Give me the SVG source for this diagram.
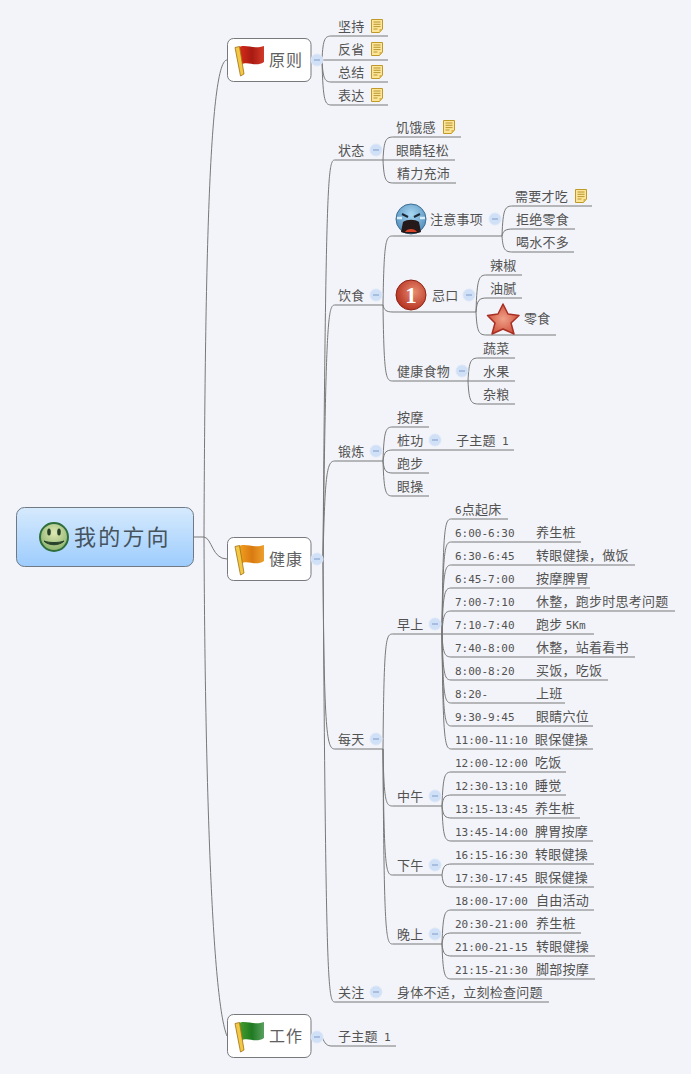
<svg xmlns="http://www.w3.org/2000/svg" width="691" height="1074" viewBox="0 0 691 1074">
<style>
text{font-family:"Noto Sans CJK SC","Noto Sans",sans-serif;font-size:13px;fill:#525252;letter-spacing:.25px}
.t{font-family:"DejaVu Sans Mono","Noto Sans CJK SC",monospace;font-size:11px;letter-spacing:0}
.m{font-size:16px;letter-spacing:1px;fill:#606060}
.r{font-size:22px;letter-spacing:2.2px;fill:#45535e}
.box{fill:#fff;stroke:#77797c;stroke-width:1}
#conn path{fill:none;stroke:#787878;stroke-width:1}
</style>
<defs>
<linearGradient id="rootg" x1="0" y1="0" x2="0" y2="1"><stop offset="0" stop-color="#d6eafd"/><stop offset="1" stop-color="#9dccfd"/></linearGradient>
<linearGradient id="fr" x1="0" y1="0" x2="1" y2="0"><stop offset="0" stop-color="#e0301c"/><stop offset=".55" stop-color="#a81a12"/><stop offset="1" stop-color="#d23a28"/></linearGradient>
<linearGradient id="fo" x1="0" y1="0" x2="1" y2="0"><stop offset="0" stop-color="#f6a722"/><stop offset=".55" stop-color="#d97a12"/><stop offset="1" stop-color="#eda02c"/></linearGradient>
<linearGradient id="fg" x1="0" y1="0" x2="1" y2="0"><stop offset="0" stop-color="#4da62e"/><stop offset=".55" stop-color="#1f7a22"/><stop offset="1" stop-color="#5aa060"/></linearGradient>
<radialGradient id="smile" cx=".5" cy=".35" r=".7"><stop offset="0" stop-color="#dfe9b4"/><stop offset="1" stop-color="#84ad66"/></radialGradient>
<radialGradient id="cry" cx=".5" cy=".35" r=".7"><stop offset="0" stop-color="#a8d8f4"/><stop offset="1" stop-color="#4a86b4"/></radialGradient>
<radialGradient id="one" cx=".6" cy=".4" r=".7"><stop offset="0" stop-color="#e88c70"/><stop offset="1" stop-color="#b02818"/></radialGradient>
<radialGradient id="star" cx=".5" cy=".5" r=".6"><stop offset="0" stop-color="#f0a088"/><stop offset="1" stop-color="#cc4a34"/></radialGradient>
<g id="c"><circle r="6" fill="#d0e0f7" stroke="#dde7f8"/><path d="M-3 0H3" stroke="#7f9cc8" stroke-width="1"/></g>
<g id="n"><path d="M.5 .5H11.500V10L8.500 13.500H.5Z" fill="#fce596" stroke="#c09a28"/><path d="M2.500 3H9.500M2.500 5.300H9.500M2.500 7.600H9.500M2.500 10H6.500" stroke="#a8821c" stroke-width=".8"/><path d="M8.500 13.500V10H11.500Z" fill="#d9b44a"/></g>
<path id="pole" d="M8 9.500L12.500 8.500L17 36L13.500 38Z" fill="#f2c844" stroke="#a07016" stroke-width=".8"/>
<path id="cloth" d="M10 10C18 5 26 12 37 8L37 24C28 30 21 22 13.500 27Z"/>
</defs>
<rect width="691" height="1074" fill="#f2f4f9"/>
<g id="conn">
<path d="M193.500 537H204M204 537C205 300 208 60 227 60"/>
<path d="M204 537C212 538 212 559 227 559"/>
<path d="M204 537C205 780 212 1000 227 1036"/>
<path d="M311 60H322M322 60C323 38 325 36 332 36H388"/>
<path d="M322 60H388"/>
<path d="M322 60C323 80 325 82 332 82H388"/>
<path d="M322 60C323 103 325 105 332 105H388"/>
<path d="M311 559H323"/>
<path d="M323 559C326 170 328 160 335 160H383"/>
<path d="M323 559C326 315 328 305 335 305H383"/>
<path d="M323 559C325 471 327 461 335 461H383"/>
<path d="M323 559C324 739 327 749 335 749H383"/>
<path d="M323 559C326 992 328 1002 335 1002H549"/>
<path d="M383 160C384 139 386 137 394 137H461"/>
<path d="M383 160H455"/>
<path d="M383 160C384 181 386 183 394 183H456"/>
<path d="M383 305C384 238 386 236 393 236H502"/>
<path d="M383 305C384 310 386 312 393 312H476"/>
<path d="M383 305C384 379 386 381 393 381H468"/>
<path d="M502 236C503 208 505 206 513 206H592"/>
<path d="M502 236C503 231 505 229 513 229H575"/>
<path d="M502 236C503 250 505 252 513 252H574"/>
<path d="M476 312C477 277 479 275 487 275H522"/>
<path d="M476 312C477 300 479 298 487 298H522"/>
<path d="M476 312C477 333 479 335 487 335H556"/>
<path d="M468 381C469 360 471 358 479 358H515"/>
<path d="M468 381H515"/>
<path d="M468 381C469 402 471 404 479 404H515"/>
<path d="M383 461C384 429 386 427 393 427H429"/>
<path d="M383 461C384 452 386 450 393 450H514"/>
<path d="M383 461C384 471 386 473 393 473H429"/>
<path d="M383 461C384 494 386 496 393 496H429"/>
<path d="M383 749C384 636 386 634 393 634H442"/>
<path d="M383 749C384 804 386 806 393 806H442"/>
<path d="M383 749C384 873 386 875 393 875H442"/>
<path d="M383 749C384 942 386 944 393 944H442"/>
<path d="M442 634C443 521 445 519 452 519H508"/>
<path d="M442 634C443 544 445 542 452 542H581"/>
<path d="M442 634C443 567 445 565 452 565H635"/>
<path d="M442 634C443 590 445 588 452 588H590"/>
<path d="M442 634C443 613 445 611 452 611H675"/>
<path d="M442 634H594"/>
<path d="M442 634C443 655 445 657 452 657H635"/>
<path d="M442 634C443 678 445 680 452 680H608"/>
<path d="M442 634C443 701 445 703 452 703H565"/>
<path d="M442 634C443 724 445 726 452 726H593"/>
<path d="M442 634C443 747 445 749 452 749H593"/>
<path d="M442 806C443 774 445 772 452 772H566"/>
<path d="M442 806C443 797 445 795 452 795H566"/>
<path d="M442 806C443 816 445 818 452 818H580"/>
<path d="M442 806C443 839 445 841 452 841H593"/>
<path d="M442 875C443 866 445 864 452 864H594"/>
<path d="M442 875C443 885 445 887 452 887H594"/>
<path d="M442 944C443 912 445 910 452 910H594"/>
<path d="M442 944C443 935 445 933 452 933H581"/>
<path d="M442 944C443 954 445 956 452 956H595"/>
<path d="M442 944C443 977 445 979 452 979H595"/>
<path d="M311 1037H322M322 1037C325 1044 327 1046 332 1046H396"/>
</g>
<g id="root"><rect x="16.500" y="507.500" width="177" height="59" rx="8" fill="url(#rootg)" stroke="#6f7a85"/>
<circle cx="54" cy="537" r="14" fill="url(#smile)" stroke="#2f6e3c" stroke-width="2"/><ellipse cx="49" cy="532" rx="1.800" ry="3.500" fill="#26402a"/><ellipse cx="59" cy="532" rx="1.800" ry="3.500" fill="#26402a"/><path d="M44 541C49 546 59 546 64 541C60 543 48 543 44 541Z" fill="#26402a" stroke="#26402a"/>
<text class="r" x="74" y="545">我的方向</text></g>
<g id="yuanze"><rect class="box" x="227.500" y="38.500" width="83.500" height="43" rx="6"/><g transform="translate(227 38)"><use href="#cloth" fill="url(#fr)"/><use href="#pole"/></g><text class="m" x="269" y="66">原则</text><use href="#c" x="317" y="60"/></g>
<g id="jiankang"><rect class="box" x="227.500" y="537.500" width="83.500" height="43" rx="6"/><g transform="translate(227 537)"><use href="#cloth" fill="url(#fo)"/><use href="#pole"/></g><text class="m" x="269" y="565">健康</text><use href="#c" x="317" y="559"/></g>
<g id="gongzuo"><rect class="box" x="227.500" y="1014.500" width="83.500" height="43" rx="6"/><g transform="translate(227 1014)"><use href="#cloth" fill="url(#fg)"/><use href="#pole"/></g><text class="m" x="269" y="1042">工作</text><use href="#c" x="317" y="1037"/></g>
<g id="n1"><text x="338" y="31">坚持</text><use href="#n" x="371" y="19"/></g>
<g id="n2"><text x="338" y="54">反省</text><use href="#n" x="371" y="42"/></g>
<g id="n3"><text x="338" y="77">总结</text><use href="#n" x="371" y="65"/></g>
<g id="n4"><text x="338" y="100">表达</text><use href="#n" x="371" y="88"/></g>
<g id="zhuangtai"><text x="338" y="155">状态</text><use href="#c" x="376" y="150"/></g>
<g id="n5"><text x="396" y="132">饥饿感</text><use href="#n" x="443" y="120"/></g>
<g id="n6"><text x="396" y="155">眼睛轻松</text></g>
<g id="n7"><text x="397" y="178">精力充沛</text></g>
<g id="yinshi"><text x="338" y="300">饮食</text><use href="#c" x="376" y="295"/></g>
<g id="zhuyi"><circle cx="411" cy="219" r="15" fill="url(#cry)" stroke="#3e6f96"/><path d="M402 214L408 217M420 214L414 217" stroke="#1c2a38" stroke-width="2"/><path d="M403 222C407 219 415 219 419 222L421 232C416 234 406 234 401 232Z" fill="#241a1a"/><path d="M405 232C407 228 415 228 417 232Z" fill="#d8442a"/><path d="M397 218H402M420 218H425" stroke="#d8eefa" stroke-width="2.500"/><text x="430" y="224">注意事项</text><use href="#c" x="495" y="219"/></g>
<g id="n8"><text x="515" y="201">需要才吃</text><use href="#n" x="575" y="189"/></g>
<g id="n9"><text x="516" y="224">拒绝零食</text></g>
<g id="n10"><text x="516" y="247">喝水不多</text></g>
<g id="jikou"><circle cx="411" cy="295" r="15" fill="url(#one)" stroke="#8e2418"/><text x="411" y="303" text-anchor="middle" style="font-family:'Liberation Serif',serif;font-size:23px;font-weight:bold;fill:#fff;letter-spacing:0">1</text><text x="432" y="300">忌口</text><use href="#c" x="469" y="295"/></g>
<g id="n11"><text x="490" y="270">辣椒</text></g>
<g id="n12"><text x="490" y="293">油腻</text></g>
<g id="n13"><path d="M503 304L508 314L519 315.500L511 323L514 334L503 329L492 334L495 323L487.500 315.500L498 314Z" fill="url(#star)" stroke="#a92f24" stroke-width="1.500" stroke-linejoin="round"/><text x="524" y="323">零食</text></g>
<g id="jiankangshiwu"><text x="397" y="376">健康食物</text><use href="#c" x="462" y="371"/></g>
<g id="n14"><text x="483" y="353">蔬菜</text></g>
<g id="n15"><text x="483" y="376">水果</text></g>
<g id="n16"><text x="483" y="399">杂粮</text></g>
<g id="duanlian"><text x="338" y="456">锻炼</text><use href="#c" x="376" y="451"/></g>
<g id="n17"><text x="397" y="422">按摩</text></g>
<g id="zhuanggong"><text x="397" y="445">桩功</text><use href="#c" x="435" y="440"/></g>
<g id="n18"><text x="456" y="445">子主题 <tspan class="t" dx="3">1</tspan></text></g>
<g id="n19"><text x="397" y="468">跑步</text></g>
<g id="n20"><text x="397" y="491">眼操</text></g>
<g id="meitian"><text x="338" y="744">每天</text><use href="#c" x="376" y="739"/></g>
<g id="zaoshang"><text x="397" y="629">早上</text><use href="#c" x="435" y="624"/></g>
<g id="zhongwu"><text x="397" y="801">中午</text><use href="#c" x="435" y="796"/></g>
<g id="xiawu"><text x="397" y="870">下午</text><use href="#c" x="435" y="865"/></g>
<g id="wanshang"><text x="397" y="939">晚上</text><use href="#c" x="435" y="934"/></g>
<g id="m1"><text x="455" y="514"><tspan class="t">6</tspan>点起床</text></g>
<g id="m2"><text class="t" x="455" y="537">6:00-6:30</text><text x="536" y="537">养生桩</text></g>
<g id="m3"><text class="t" x="455" y="560">6:30-6:45</text><text x="536" y="560">转眼健操，做饭</text></g>
<g id="m4"><text class="t" x="455" y="583">6:45-7:00</text><text x="536" y="583">按摩脾胃</text></g>
<g id="m5"><text class="t" x="455" y="606">7:00-7:10</text><text x="536" y="606">休整，跑步时思考问题</text></g>
<g id="m6"><text class="t" x="455" y="629">7:10-7:40</text><text x="536" y="629">跑步 <tspan class="t">5Km</tspan></text></g>
<g id="m7"><text class="t" x="455" y="652">7:40-8:00</text><text x="536" y="652">休整，站着看书</text></g>
<g id="m8"><text class="t" x="455" y="675">8:00-8:20</text><text x="536" y="675">买饭，吃饭</text></g>
<g id="m9"><text class="t" x="455" y="698">8:20-</text><text x="536" y="698">上班</text></g>
<g id="m10"><text class="t" x="455" y="721">9:30-9:45</text><text x="536" y="721">眼睛穴位</text></g>
<g id="m11"><text class="t" x="455" y="744">11:00-11:10</text><text x="535" y="744">眼保健操</text></g>
<g id="a1"><text class="t" x="455" y="767">12:00-12:00</text><text x="535" y="767">吃饭</text></g>
<g id="a2"><text class="t" x="455" y="790">12:30-13:10</text><text x="535" y="790">睡觉</text></g>
<g id="a3"><text class="t" x="455" y="813">13:15-13:45</text><text x="535" y="813">养生桩</text></g>
<g id="a4"><text class="t" x="455" y="836">13:45-14:00</text><text x="535" y="836">脾胃按摩</text></g>
<g id="p1"><text class="t" x="455" y="859">16:15-16:30</text><text x="535" y="859">转眼健操</text></g>
<g id="p2"><text class="t" x="455" y="882">17:30-17:45</text><text x="535" y="882">眼保健操</text></g>
<g id="e1"><text class="t" x="455" y="905">18:00-17:00</text><text x="536" y="905">自由活动</text></g>
<g id="e2"><text class="t" x="455" y="928">20:30-21:00</text><text x="536" y="928">养生桩</text></g>
<g id="e3"><text class="t" x="455" y="951">21:00-21-15</text><text x="536" y="951">转眼健操</text></g>
<g id="e4"><text class="t" x="455" y="974">21:15-21:30</text><text x="536" y="974">脚部按摩</text></g>
<g id="guanzhu"><text x="338" y="997">关注</text><use href="#c" x="376" y="992"/></g>
<g id="n21"><text x="397" y="997">身体不适，立刻检查问题</text></g>
<g id="n22"><text x="338" y="1041">子主题 <tspan class="t" dx="3">1</tspan></text></g>
</svg>
